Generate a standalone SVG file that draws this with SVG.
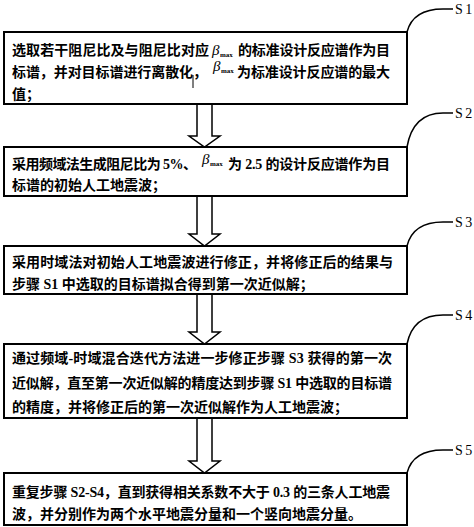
<svg xmlns="http://www.w3.org/2000/svg" width="474" height="527" viewBox="0 0 474 527">
<style>
.box{fill:#fff;stroke:#000;stroke-width:2}
.arr{fill:#fff;stroke:#000;stroke-width:1.5;stroke-linejoin:miter}
.lead{fill:none;stroke:#000;stroke-width:1.5}
.t{font-family:"Liberation Serif","Noto Sans CJK SC",serif;font-size:14px;font-weight:bold;fill:#000}
.b{font-family:"Liberation Serif",serif;font-size:15px;font-style:italic;fill:#000}
.m{font-family:"Liberation Serif",serif;font-size:7px;font-weight:bold;fill:#000}
.s{font-family:"Liberation Serif",serif;font-size:14px;letter-spacing:2.5px;fill:#000}
</style>
<rect width="474" height="527" fill="#fff"/>
<g id="connectors">
<path class="arr" d="M197,104 L197,136 L189,136 L204.5,147 L220,136 L212,136 L212,104"/>
<path class="arr" d="M197,196 L197,234 L189,234 L204.5,246 L220,234 L212,234 L212,196"/>
<path class="arr" d="M197,294 L197,332 L189,332 L204.5,344 L220,332 L212,332 L212,294"/>
<path class="arr" d="M197,418 L197,461 L189,461 L204.5,473 L220,461 L212,461 L212,418"/>
<path class="lead" d="M407,32 Q413,9 443,9 L453,9"/>
<path class="lead" d="M407,147 Q413,113 443,113 L453,113"/>
<path class="lead" d="M407,246 Q413,222 443,222 L453,222"/>
<path class="lead" d="M407,344 Q413,315 443,315 L453,315"/>
<path class="lead" d="M407,473 Q413,450 443,450 L453,450"/>
</g>
<g id="S1">
<rect class="box" x="4" y="32" width="403" height="72"/>
<text class="t" x="12" y="55" textLength="197" lengthAdjust="spacing">选取若干阻尼比及与阻尼比对应</text>
<text class="b" x="212" y="55">β</text><text class="m" x="220" y="57">max</text>
<text class="t" x="238" y="55" textLength="152" lengthAdjust="spacing">的标准设计反应谱作为目</text>
<text class="t" x="12" y="77" textLength="195" lengthAdjust="spacing">标谱，并对目标谱进行离散化，</text>
<text class="b" x="213" y="71">β</text><text class="m" x="221" y="73">max</text>
<text class="t" x="237" y="77" textLength="153" lengthAdjust="spacing">为标准设计反应谱的最大</text>
<text class="t" x="12" y="99">值；</text>
<line x1="193" y1="75" x2="193" y2="88" stroke="#000" stroke-width="1"/>
<text class="s" x="455" y="14">S1</text>
</g>
<g id="S2">
<rect class="box" x="4" y="147" width="403" height="49"/>
<text class="t" x="12" y="169" textLength="185" lengthAdjust="spacing">采用频域法生成阻尼比为 5%、</text>
<text class="b" x="202" y="164">β</text><text class="m" x="210" y="166">max</text>
<text class="t" x="228" y="169" textLength="162" lengthAdjust="spacing">为 2.5 的设计反应谱作为目</text>
<text class="t" x="12" y="190">标谱的初始人工地震波；</text>
<text class="s" x="455" y="118">S2</text>
</g>
<g id="S3">
<rect class="box" x="4" y="246" width="403" height="48"/>
<text class="t" x="12" y="267" textLength="381" lengthAdjust="spacing">采用时域法对初始人工地震波进行修正，并将修正后的结果与</text>
<text class="t" x="12" y="289">步骤 S1 中选取的目标谱拟合得到第一次近似解；</text>
<text class="s" x="455" y="227">S3</text>
</g>
<g id="S4">
<rect class="box" x="4" y="344" width="403" height="74"/>
<text class="t" x="12" y="363" textLength="380" lengthAdjust="spacing">通过频域-时域混合迭代方法进一步修正步骤 S3 获得的第一次</text>
<text class="t" x="12" y="388" textLength="380" lengthAdjust="spacing">近似解，直至第一次近似解的精度达到步骤 S1 中选取的目标谱</text>
<text class="t" x="12" y="412">的精度，并将修正后的第一次近似解作为人工地震波；</text>
<text class="s" x="455" y="320">S4</text>
</g>
<g id="S5">
<rect class="box" x="4" y="473" width="403" height="52"/>
<text class="t" x="12" y="497" textLength="378" lengthAdjust="spacing">重复步骤 S2-S4，直到获得相关系数不大于 0.3 的三条人工地震</text>
<text class="t" x="12" y="519">波，并分别作为两个水平地震分量和一个竖向地震分量。</text>
<text class="s" x="455" y="455">S5</text>
</g>
</svg>
